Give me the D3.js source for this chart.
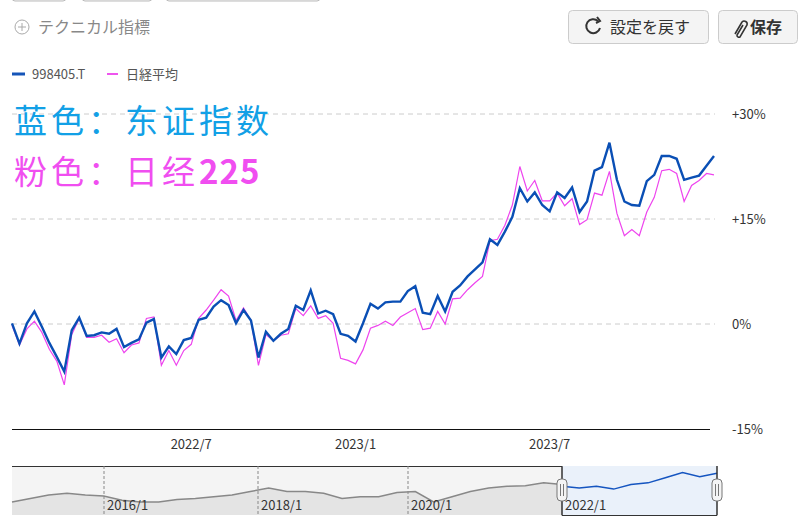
<!DOCTYPE html>
<html><head><meta charset="utf-8">
<script src="https://cdn.jsdelivr.net/npm/d3@7"></script>
<style>body{margin:0;background:#fff;font-family:"Noto Sans CJK JP","Noto Sans",sans-serif}</style>
</head><body><svg id="c" width="800" height="523"></svg>
<script>
// weekly % change, 998405.T (TOPIX) and Nikkei 225
const topix = [0.1,-2.8,0.1,1.8,-0.4,-2.7,-4.7,-6.8,-0.9,0.9,-1.7,-1.6,-1.2,-1.4,-0.7,-3.3,-2.7,-2.2,0.2,0.7,
  -4.8,-3.2,-4.3,-2.3,-2.0,0.6,0.9,2.5,3.4,2.7,0.1,2.0,0.5,-4.8,-1.1,-2.4,-1.4,-0.7,2.6,2.0,
  4.8,1.5,1.9,1.4,-1.4,-1.7,-2.5,0.1,2.9,2.2,3.1,3.2,3.2,4.7,5.4,1.6,1.4,4.0,1.8,4.6,
  5.5,6.8,7.8,8.8,12.1,11.3,13.2,15.3,19.4,17.5,18.8,17.0,16.1,18.8,18.0,19.5,16.0,17.5,21.9,22.4,
  25.9,20.6,17.5,17.0,16.9,20.4,21.3,24.0,24.0,23.6,20.6,20.9,21.2,22.6,24.0];
const nikkei = [-0.2,-3.0,-0.7,0.4,-1.2,-3.6,-5.3,-8.7,-1.5,0.8,-1.9,-1.9,-1.6,-2.6,-2.1,-4.1,-3.0,-2.7,0.8,1.0,
  -5.9,-3.8,-5.9,-3.8,-2.9,0.8,2.0,3.4,4.9,4.0,0.5,2.3,0.5,-5.9,-1.5,-2.4,-1.6,-1.4,2.2,1.2,
  2.6,0.8,1.2,0.1,-4.9,-5.2,-5.7,-3.7,-0.6,-0.2,0.4,-0.2,1.0,1.6,2.2,-0.8,-0.6,1.8,0.0,3.6,
  3.7,4.9,5.9,6.8,11.9,12.1,14.1,17.0,22.5,19.0,20.5,17.6,17.6,18.7,16.9,17.9,14.2,14.9,18.7,18.4,
  21.8,15.8,12.6,13.5,12.6,16.0,18.1,21.9,22.1,21.5,17.5,19.8,20.5,21.5,21.3];
const xTicks = [{i:24,label:"2022/7"},{i:46,label:"2023/1"},{i:72,label:"2023/7"}];
const yTicks = [30,15,0,-15];
// navigator overview (long-term level, arbitrary units)
const navHist = [55,65,75,80,75,72,60,55,55,62,65,70,75,85,95,85,85,80,65,70,70,82,85,55,70,85,95,100,102,110,105];
const navSel = [100,95,100,92,105,110,125,140,128,138];
const navTicks = [{x:104,label:"2016/1"},{x:258,label:"2018/1"},{x:408,label:"2020/1"},{x:562,label:"2022/1"}];

const svg = d3.select("#c");
const x = d3.scaleLinear().domain([0, topix.length-1]).range([12, 714]);
const y = d3.scaleLinear().domain([-15, 30]).range([429, 114]);

// header
const hdr = svg.append("g");
[[12,66],[82,152],[166,320]].forEach(([a,b]) => hdr.append("rect").attr("x",a).attr("y",-6).attr("width",b-a).attr("height",7).attr("rx",3).attr("fill","#f4f4f4").attr("stroke","#bbb"));
hdr.append("circle").attr("cx",22).attr("cy",27).attr("r",7).attr("fill","none").attr("stroke","#aaa");
hdr.append("path").attr("d","M18,27H26M22,23V31").attr("stroke","#aaa");
hdr.append("text").attr("x",38).attr("y",33).attr("font-size",16).attr("fill","#888").text("テクニカル指標");
[[568,708,"設定を戻す",610,"normal"],[718,797,"保存",750,"bold"]].forEach(([a,b,t,tx,w]) => {
  hdr.append("rect").attr("x",a+0.5).attr("y",10.5).attr("width",b-a).attr("height",33).attr("rx",4).attr("fill","#f4f4f4").attr("stroke","#ccc");
  hdr.append("text").attr("x",tx).attr("y",33).attr("font-size",16).attr("font-weight",w).attr("fill","#333").text(t);
});
hdr.append("path").attr("d","M598,21A7,7 0 1,0 600,28").attr("fill","none").attr("stroke","#333").attr("stroke-width",2);
hdr.append("path").attr("d","M597,17L600,21L596,23").attr("fill","none").attr("stroke","#333").attr("stroke-width",2);
hdr.append("path").attr("d","M735,34L742,22A3,3 0 0,1 747,25L740,37A2,2 0 0,1 737,35L743,25").attr("fill","none").attr("stroke","#333").attr("stroke-width",1.6);

// legend
svg.append("line").attr("x1",12).attr("x2",25).attr("y1",74).attr("y2",74).attr("stroke","#1555b8").attr("stroke-width",3);
svg.append("text").attr("x",32).attr("y",78.5).attr("font-size",13).attr("fill","#555").text("998405.T");
svg.append("line").attr("x1",107).attr("x2",118).attr("y1",74).attr("y2",74).attr("stroke","#ee55ee").attr("stroke-width",2);
svg.append("text").attr("x",126).attr("y",78.5).attr("font-size",13).attr("fill","#555").text("日経平均");

// grid + axis
yTicks.forEach(t => {
  if (t > -15) svg.append("line").attr("x1",12).attr("x2",715).attr("y1",y(t)).attr("y2",y(t)).attr("stroke","#ccc").attr("stroke-dasharray","5,4");
  svg.append("text").attr("x",732).attr("y",y(t)+5).attr("font-size",13).attr("fill","#333").text((t>0?"+":"")+t+"%");
});
svg.append("line").attr("x1",12).attr("x2",710).attr("y1",429.5).attr("y2",429.5).attr("stroke","#111");
xTicks.forEach(t => svg.append("text").attr("x",x(t.i)).attr("y",449).attr("text-anchor","middle").attr("font-size",13).attr("fill","#333").text(t.label));

// series
const line = d3.line().x((d,i) => x(i)).y(d => y(d));
svg.append("path").datum(nikkei).attr("d",line).attr("fill","none").attr("stroke","#ee44ee").attr("stroke-width",1.2);
svg.append("path").datum(topix).attr("d",line).attr("fill","none").attr("stroke","#0a4fb5").attr("stroke-width",2.4);

// overlay annotation
svg.append("text").attr("x",14).attr("y",133).attr("font-size",33).attr("letter-spacing",4).attr("fill","#12a0e6").attr("font-family","Noto Sans CJK SC").text("蓝色：东证指数");
svg.append("text").attr("x",14).attr("y",184).attr("font-size",33).attr("letter-spacing",4).attr("fill","#f04ef0").attr("font-family","Noto Sans CJK SC")
  .call(t => { t.append("tspan").text("粉色：日经"); t.append("tspan").attr("font-weight","bold").attr("letter-spacing",1).text("225"); });

// navigator
const nav = svg.append("g");
const nx = d3.scaleLinear().domain([0, navHist.length-1]).range([12, 562]);
const nxs = d3.scaleLinear().domain([0, navSel.length-1]).range([562, 717]);
const ny = d3.scaleLinear().domain([0, 150]).range([521, 469]);
nav.append("rect").attr("x",12).attr("y",466).attr("width",550).attr("height",49).attr("fill","#f4f4f4");
nav.append("path").datum(navHist).attr("d",d3.area().x((d,i)=>nx(i)).y0(515).y1(d=>ny(d))).attr("fill","#e4e4e4");
nav.append("rect").attr("x",562).attr("y",466).attr("width",155).attr("height",49).attr("fill","#eaf1fa");
nav.append("path").datum(navHist).attr("d",d3.line().x((d,i)=>nx(i)).y(d=>ny(d))).attr("fill","none").attr("stroke","#888").attr("stroke-width",1.5);
nav.append("path").datum(navSel).attr("d",d3.line().x((d,i)=>nxs(i)).y(d=>ny(d))).attr("fill","none").attr("stroke","#1555c0").attr("stroke-width",1.5);
nav.append("path").attr("d","M12,466.5H562V515.5H717V466").attr("fill","none").attr("stroke","#333");
navTicks.forEach(t => {
  if (t.x < 560) nav.append("line").attr("x1",t.x).attr("x2",t.x).attr("y1",466).attr("y2",515).attr("stroke","#888").attr("stroke-dasharray","3,2");
  nav.append("text").attr("x",t.x+3).attr("y",510).attr("font-size",13).attr("fill","#333").text(t.label);
});
[562,717].forEach(hx => {
  nav.append("line").attr("x1",hx).attr("x2",hx).attr("y1",466).attr("y2",515).attr("stroke","#333");
  nav.append("rect").attr("x",hx-5).attr("y",479).attr("width",10).attr("height",22).attr("rx",4).attr("fill","#f4f4f4").attr("stroke","#777");
  nav.append("path").attr("d",`M${hx-1.5},484V496M${hx+1.5},484V496`).attr("stroke","#777");
});
</script></body></html>
